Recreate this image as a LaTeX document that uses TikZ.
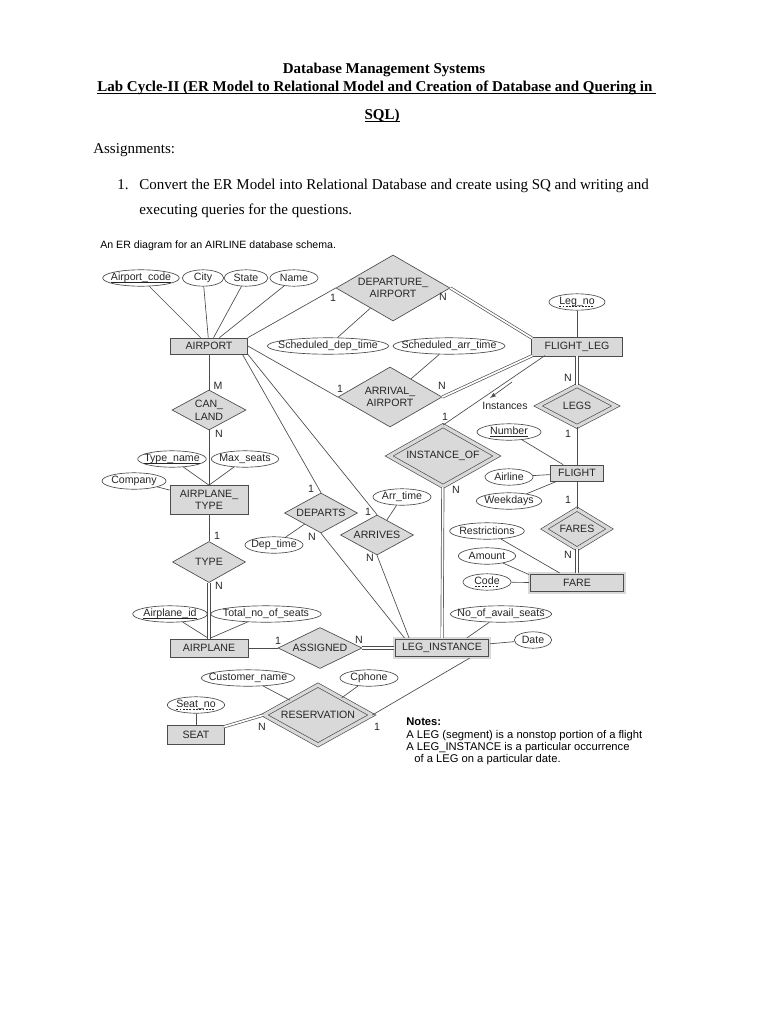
\documentclass[tikz,border=0pt]{standalone}
\usepackage{fontspec}
\setmainfont{Liberation Serif}
\newfontfamily\erfont{Liberation Sans}
\usetikzlibrary{shapes.geometric}

\newcommand{\docsize}{\fontsize{11.25pt}{13pt}\selectfont}
\newcommand{\ersize}{\erfont\fontsize{7.95pt}{9.5pt}\selectfont}
\newcommand{\notesize}{\erfont\fontsize{8.4pt}{10pt}\selectfont}
% underlines: heading, key attribute, partial key
\newsavebox{\ulbox}
\newcommand{\uhead}[1]{\sbox{\ulbox}{#1}\rlap{\usebox{\ulbox}}\rule[-2.2pt]{\wd\ulbox}{0.6pt}}
\newcommand{\ukey}[1]{\sbox{\ulbox}{#1}\rlap{\usebox{\ulbox}}\rule[-1.5pt]{\wd\ulbox}{0.4pt}}
\newcommand{\dkey}[1]{\sbox{\ulbox}{#1}\rlap{\usebox{\ulbox}}\raisebox{-1.5pt}{\makebox[\wd\ulbox][l]{\xleaders\hbox{\rule{1.4pt}{0.4pt}\hspace{1pt}}\hfill}}}

\begin{document}
\begin{tikzpicture}[x=0.75pt, y=-0.75pt, line width=0.5pt,
    txt/.style={inner sep=0pt, font=\docsize},
    ln/.style={draw=black!70},
    dbl/.style={draw=black!70, double, double distance=1.3pt},
    ent/.style 2 args={rectangle, draw=black!70, fill=black!15, text=black!85,
        font=\ersize, inner sep=0pt, minimum width=#1, minimum height=#2, align=center},
    went/.style 2 args={ent={#1}{#2}, double=black!15, double distance=1.6pt},
    rel/.style 2 args={diamond, draw=black!70, fill=black!15, text=black!85,
        font=\ersize, shape aspect=1.7, inner sep=0pt, minimum width=#1, minimum height=#2, align=center},
    wrel/.style 2 args={rel={#1}{#2}, double=black!15, double distance=2.4pt},
    attr/.style={ellipse, draw=black!70, fill=white, text=black!85, font=\ersize,
        inner xsep=-20pt, inner ysep=0pt, minimum height=12.3pt, minimum width=#1},
    card/.style={font=\ersize, text=black!85, inner sep=0pt}]

    % 1. Page frame
    \useasboundingbox (0,0) rectangle (768,1024);

    % 2. Heading and assignment text
    \node[txt, anchor=base, font=\docsize\bfseries] (title) at (384,74) {Database Management Systems};
    \node[txt, anchor=base west, font=\docsize\bfseries] (lab) at (97,91)
        {\uhead{Lab Cycle-II (ER Model to Relational Model and Creation of Database and Quering in\ }};
    \node[txt, anchor=base, font=\docsize\bfseries] (labend) at (382,119) {\uhead{SQL)}};
    \node[txt, anchor=base west] (assign) at (93,153) {Assignments:};
    \node[txt, anchor=base west] (num) at (117,189) {1.};
    \node[txt, anchor=base west] (task) at (139,189)
        {Convert the ER Model into Relational Database and create using SQ and writing and};
    \node[txt, anchor=base west] (taskend) at (139,214) {executing queries for the questions.};

    % 3. Caption of the schema
    \node[txt, anchor=base west, font=\ersize] (caption) at (100,248)
        {An ER diagram for an AIRLINE database schema.};

    % 4. Entity types
    \node[ent={57.75pt}{12pt}] (AIRPORT) at (209,346) {AIRPORT};
    \node[went={66.4pt}{12.4pt}] (FLIGHTLEG) at (577,347) {FLIGHT\_LEG};
    \node[ent={58.5pt}{21.75pt}] (APTYPE) at (209,500) {AIRPLANE\_\\TYPE};
    \node[ent={58.5pt}{13.5pt}] (AIRPLANE) at (209,648) {AIRPLANE};
    \node[went={71.6pt}{14.6pt}] (LEGINST) at (442,648) {LEG\_INSTANCE};
    \node[went={40.9pt}{12.4pt}] (SEAT) at (196,735) {SEAT};
    \node[ent={39.75pt}{12pt}] (FLIGHT) at (577,473) {FLIGHT};
    \node[went={71.6pt}{14.6pt}] (FARE) at (577,583) {FARE};

    % 5. Relationship types
    \node[rel={85.5pt}{49.5pt}] (DEPAIR) at (393,288) {DEPARTURE\_\\AIRPORT};
    \node[rel={78pt}{45pt}] (ARRAIR) at (390,397) {ARRIVAL\_\\AIRPORT};
    \node[rel={55.5pt}{30pt}] (CANLAND) at (209,410) {CAN\_\\LAND};
    \node[rel={54.75pt}{30.75pt}] (TYPE) at (209,562) {TYPE};
    \node[rel={54.75pt}{30pt}] (DEPARTS) at (321,513) {DEPARTS};
    \node[rel={54.75pt}{30pt}] (ARRIVES) at (377,535) {ARRIVES};
    \node[rel={63pt}{30.75pt}] (ASSIGNED) at (320,648) {ASSIGNED};
    \node[wrel={81pt}{45pt}] (RESERV) at (318,715) {RESERVATION};
    \node[wrel={81pt}{45.8pt}] (INSTOF) at (443,456) {INSTANCE\_OF};
    \node[wrel={58.5pt}{30.8pt}] (LEGS) at (577,406) {LEGS};
    \node[wrel={49pt}{30pt}] (FARES) at (577,529) {FARES};

    % 6. Attributes
    \node[attr=57.5pt] (acode) at (141,278) {\ukey{Airport\_code}};
    \node[attr=31pt] (city) at (203,278) {City};
    \node[attr=33pt] (state) at (246,278) {State};
    \node[attr=36pt] (aname) at (294,278) {Name};
    \node[attr=91pt] (sdep) at (328,346) {Scheduled\_dep\_time};
    \node[attr=84pt] (sarr) at (449,346) {Scheduled\_arr\_time};
    \node[attr=42pt] (legno) at (577,302) {\dkey{Leg\_no}};
    \node[attr=51.5pt] (tname) at (172,459) {\ukey{Type\_name}};
    \node[attr=50.5pt] (maxseats) at (245,459) {Max\_seats};
    \node[attr=48pt] (company) at (134,481) {Company};
    \node[attr=43.5pt] (deptime) at (274,545) {Dep\_time};
    \node[attr=43.5pt] (arrtime) at (402,497) {Arr\_time};
    \node[attr=48pt] (number) at (509,432) {\ukey{Number}};
    \node[attr=36pt] (airline) at (509,477) {Airline};
    \node[attr=49pt] (weekdays) at (509,501) {Weekdays};
    \node[attr=56pt] (restr) at (487,531) {Restrictions};
    \node[attr=43pt] (amount) at (487,556) {Amount};
    \node[attr=36pt] (code) at (487,582) {\dkey{Code}};
    \node[attr=56pt] (apid) at (170,614) {\ukey{Airplane\_id}};
    \node[attr=83pt] (totseats) at (266,614) {Total\_no\_of\_seats};
    \node[attr=76pt] (availseats) at (501,614) {No\_of\_avail\_seats};
    \node[attr=28pt] (date) at (533,640) {Date};
    \node[attr=70pt] (custname) at (248,678) {Customer\_name};
    \node[attr=43.5pt] (cphone) at (369,678) {Cphone};
    \node[attr=43pt] (seatno) at (196,705) {\dkey{Seat\_no}};

    % 7. Attribute lines
    \foreach \a in {acode,city,state,aname}
        \draw[ln] (\a) -- (AIRPORT);
    \foreach \a in {tname,maxseats}
        \draw[ln] (\a) -- (APTYPE.north);
    \foreach \a in {apid,totseats}
        \draw[ln] (\a) -- (AIRPLANE.north);
    \foreach \a in {number,airline,weekdays}
        \draw[ln] (\a) -- (FLIGHT);
    \foreach \a in {restr,code}
        \draw[ln] (\a) -- (FARE);
    \draw[ln] (amount) -- (FARE.170);
    \draw[ln] (company) -- (APTYPE);
    \draw[ln] (sdep) -- (DEPAIR);
    \draw[ln] (sarr) -- (ARRAIR);
    \draw[ln] (legno) -- (FLIGHTLEG);
    \draw[ln] (deptime) -- (DEPARTS);
    \draw[ln] (arrtime) -- (ARRIVES);
    \draw[ln] (availseats) -- (LEGINST.22);
    \draw[ln] (date) -- (LEGINST);
    \draw[ln] (custname) -- (RESERV);
    \draw[ln] (cphone) -- (RESERV);
    \draw[ln] (seatno) -- (SEAT);

    % 8. Relationship lines (double = total participation)
    \draw[ln] (AIRPORT.north east) -- (DEPAIR.west);
    \draw[dbl] (DEPAIR.east) -- (FLIGHTLEG.north west);
    \draw[ln] (AIRPORT.east) -- (ARRAIR.west);
    \draw[dbl] (ARRAIR.east) -- (FLIGHTLEG.south west);
    \draw[dbl] (FLIGHTLEG) -- (LEGS);
    \draw[ln] (LEGS) -- (FLIGHT);
    \draw[ln] (FLIGHT) -- (FARES);
    \draw[dbl] (FARES) -- (FARE);
    \draw[ln] (FLIGHTLEG.-165) -- (INSTOF.north);
    \draw[dbl] (INSTOF) -- (LEGINST);
    \draw[ln] (AIRPORT) -- (CANLAND);
    \draw[ln] (CANLAND) -- (APTYPE);
    \draw[ln] (APTYPE) -- (TYPE);
    \draw[dbl] (TYPE) -- (AIRPLANE);
    \draw[ln] (AIRPLANE) -- (ASSIGNED);
    \draw[dbl] (ASSIGNED) -- (LEGINST);
    \draw[ln] (AIRPORT.-14) -- (DEPARTS.north);
    \draw[ln] (AIRPORT.south east) -- (ARRIVES.north);
    \draw[ln] (DEPARTS.south) -- (LEGINST.165);
    \draw[ln] (ARRIVES.south) -- (LEGINST.163);
    \draw[ln] (LEGINST.-20) -- (RESERV.east);
    \draw[dbl] (SEAT) -- (RESERV.west);

    % 9. Instances arrow
    \coordinate (instTail) at (512,382);
    \coordinate (instHead) at (490,398);
    \draw[->, >=latex, ln] (instTail) -- (instHead);
    \node[card] (instances) at (505,406) {Instances};

    % 10. Cardinality ratios
    \node[card] (cDepA1) at (333,298) {1};
    \node[card] (cDepAN) at (443,297) {N};
    \node[card] (cArrA1) at (340,389) {1};
    \node[card] (cArrAN) at (442,386) {N};
    \node[card] (cLegsN) at (568,378) {N};
    \node[card] (cLegs1) at (568,434) {1};
    \node[card] (cInst1) at (445,417) {1};
    \node[card] (cInstN) at (456,490) {N};
    \node[card] (cFares1) at (568,500) {1};
    \node[card] (cFaresN) at (568,555) {N};
    \node[card] (cCanM) at (218,386) {M};
    \node[card] (cCanN) at (219,434) {N};
    \node[card] (cType1) at (217,536) {1};
    \node[card] (cTypeN) at (219,586) {N};
    \node[card] (cDep1) at (311,489) {1};
    \node[card] (cDepN) at (312,537) {N};
    \node[card] (cArr1) at (368,512) {1};
    \node[card] (cArrN) at (370,558) {N};
    \node[card] (cAsg1) at (278,641) {1};
    \node[card] (cAsgN) at (359,640) {N};
    \node[card] (cResN) at (262,727) {N};
    \node[card] (cRes1) at (377,727) {1};

    % 11. Notes
    \node[txt, anchor=base west, font=\notesize\bfseries] (notes) at (406,725) {Notes:};
    \node[txt, anchor=base west, font=\notesize] (note1) at (406,738)
        {A LEG (segment) is a nonstop portion of a flight};
    \node[txt, anchor=base west, font=\notesize] (note2) at (406,750.5)
        {A LEG\_INSTANCE is a particular occurrence};
    \node[txt, anchor=base west, font=\notesize] (note3) at (414,762)
        {of a LEG on a particular date.};

\end{tikzpicture}
\end{document}
